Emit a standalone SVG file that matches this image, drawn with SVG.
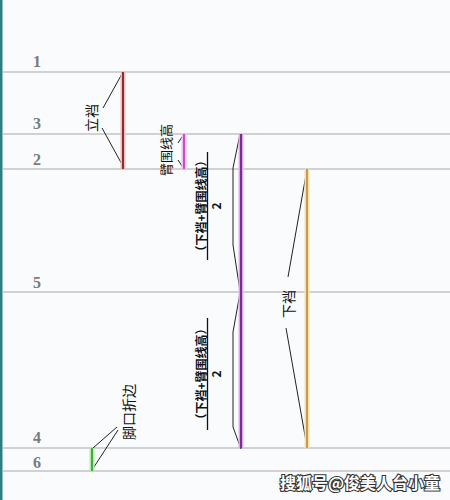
<svg xmlns="http://www.w3.org/2000/svg" width="450" height="500" viewBox="0 0 450 500">
<style>
.grid{stroke:#a8a8a8;stroke-width:1.2}
.num{font-family:"Liberation Serif",serif;font-weight:bold;font-size:16px;fill:#7a7a7a;text-anchor:middle}
.lbl{font-family:"Noto Sans CJK SC",sans-serif;font-size:14px;fill:#111;text-anchor:middle;dominant-baseline:central}
.frac{font-family:"Noto Sans CJK SC",sans-serif;font-weight:bold;font-size:12px;fill:#111;text-anchor:middle;dominant-baseline:central}
.thin{stroke:#222;stroke-width:1;fill:none}
.wm{font-family:"Noto Sans CJK SC",sans-serif;font-weight:bold;font-size:16px;fill:#fff;stroke:#333;stroke-width:2.2;paint-order:stroke}
</style>
<rect width="450" height="500" fill="#fafbfc"/>
<rect x="0" y="0" width="2.5" height="500" fill="#2a7f80"/>
<g id="grid">
<line class="grid" x1="3" y1="72" x2="450" y2="72"/>
<line class="grid" x1="3" y1="134" x2="450" y2="134"/>
<line class="grid" x1="3" y1="169" x2="450" y2="169"/>
<line class="grid" x1="3" y1="292" x2="450" y2="292"/>
<line class="grid" x1="3" y1="448" x2="450" y2="448"/>
<line class="grid" x1="3" y1="471" x2="450" y2="471"/>
</g>
<g id="numbers">
<text class="num" x="37" y="67">1</text>
<text class="num" x="37" y="129">3</text>
<text class="num" x="37" y="165">2</text>
<text class="num" x="37" y="288">5</text>
<text class="num" x="37" y="443">4</text>
<text class="num" x="37" y="468">6</text>
</g>
<g id="connectors">
<polyline class="thin" points="123,72 103,108"/>
<polyline class="thin" points="102,128 124,168"/>
<polyline class="thin" points="184,134 178,143"/>
<polyline class="thin" points="178,160 184,169"/>
<polyline class="thin" points="240,134 233,168 233,245 240,291"/>
<polyline class="thin" points="240,293 233,332 233,427 241,449"/>
<polyline class="thin" points="307,169 288,277"/>
<polyline class="thin" points="286,328 307,447"/>
<polyline class="thin" points="93,448 117,427"/>
<polyline class="thin" points="92,470 118,430"/>
</g>
<g id="lidang">
<line x1="123" y1="72" x2="123" y2="169" stroke="#f3b8b8" stroke-width="5"/>
<line x1="123" y1="72" x2="123" y2="169" stroke="#8a2e2e" stroke-width="2"/>
<text class="lbl" transform="translate(91,118) rotate(-90)">立裆</text>
</g>
<g id="biweixiangao">
<line x1="184" y1="134" x2="184" y2="169" stroke="#f0c0f0" stroke-width="5"/>
<line x1="184" y1="134" x2="184" y2="169" stroke="#c94fc9" stroke-width="2"/>
<text class="lbl" style="font-size:13px" transform="translate(165,150) rotate(-90)">臂围线高</text>
</g>
<g id="half">
<line x1="241" y1="134" x2="241" y2="448" stroke="#e6b6ec" stroke-width="5"/>
<line x1="241" y1="134" x2="241" y2="448" stroke="#7d2b95" stroke-width="2.2"/>
</g>
<g id="frac-upper">
<text class="frac" transform="translate(200,206) rotate(-90)">（下裆+臂围线高）</text>
<line x1="207.5" y1="152" x2="207.5" y2="260" stroke="#111" stroke-width="1.3"/>
<text class="frac" transform="translate(215,206) rotate(-90)">2</text>
</g>
<g id="frac-lower">
<text class="frac" transform="translate(200,374) rotate(-90)">（下裆+臂围线高）</text>
<line x1="207.5" y1="318" x2="207.5" y2="430" stroke="#111" stroke-width="1.3"/>
<text class="frac" transform="translate(215,374) rotate(-90)">2</text>
</g>
<g id="xiadang">
<line x1="307" y1="169" x2="307" y2="448" stroke="#fbe0a8" stroke-width="5"/>
<line x1="307" y1="169" x2="307" y2="448" stroke="#c49a58" stroke-width="2"/>
<text class="lbl" transform="translate(288,304) rotate(-90)">下裆</text>
</g>
<g id="jiaokou">
<line x1="92" y1="448" x2="92" y2="471" stroke="#b8e8b0" stroke-width="5"/>
<line x1="92" y1="448" x2="92" y2="471" stroke="#3fae3f" stroke-width="2"/>
<text class="lbl" transform="translate(128,412) rotate(-90)">脚口折边</text>
</g>
<text class="wm" x="280" y="489">搜狐号@俊美人台小童</text>
</svg>
